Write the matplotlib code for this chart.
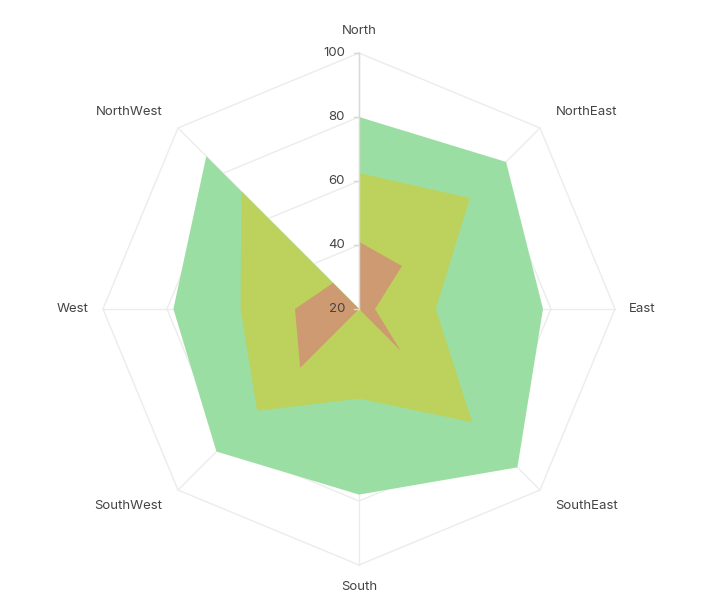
import numpy as np
import matplotlib.pyplot as plt

plt.rcParams['font.family'] = ['Inter', 'DejaVu Sans']

directions = ["North", "NorthEast", "East", "SouthEast", "South", "SouthWest", "West", "NorthWest"]
series_a = [80, 85, 77.5, 90, 78, 83, 78, 87.5]
series_b = [62.5, 69, 44, 70, 48, 65, 57, 72]
series_c = [41, 39, 25, 38.5, 20, 46, 40, 31.5]
colors = ["#9bdea3", "#bdd25c", "#cd9a72"]
ticks = [20, 40, 60, 80, 100]

cx, cy = 359, 309
rmin, rmax = 20, 100
R = 256


def to_xy(v, i):
    r = (v - rmin) / (rmax - rmin) * R
    a = np.pi / 2 - i * np.pi / 4
    return cx + r * np.cos(a), cy - r * np.sin(a)


fig = plt.figure(figsize=(7.15, 6.0), dpi=100)
ax = fig.add_axes([0, 0, 1, 1])
ax.set_xlim(0, 715)
ax.set_ylim(600, 0)
ax.axis('off')

# grid
for t in ticks[1:]:
    pts = [to_xy(t, i) for i in range(9)]
    ax.plot([p[0] for p in pts], [p[1] for p in pts], color="#ececec", lw=1, zorder=1)
for i in range(8):
    x, y = to_xy(rmax, i)
    ax.plot([cx, x], [cy, y], color="#ececec", lw=1, zorder=1)

# series: area starts and ends at centre
for vals, c in zip([series_a, series_b, series_c], colors):
    pts = [(cx, cy)] + [to_xy(v, i) for i, v in enumerate(vals)] + [(cx, cy)]
    ax.fill([p[0] for p in pts], [p[1] for p in pts], color=c, lw=0, zorder=2)

# radial axis
ax.plot([cx, cx], [cy, to_xy(rmax, 0)[1]], color="#d9d9d9", lw=1, zorder=3)
for t in ticks:
    y = to_xy(t, 0)[1]
    ax.plot([cx - 5, cx], [y, y], color="#d9d9d9", lw=1, zorder=3)
    ax.text(cx - 14, y, str(t), ha='right', va='center', fontsize=9.5, color="#444444", zorder=4)

for i, d in enumerate(directions):
    a = np.pi / 2 - i * np.pi / 4
    x, y = cx + 278 * np.cos(a), cy - 278 * np.sin(a)
    ha = 'center'
    if np.cos(a) > 0.1:
        ha = 'left'
    elif np.cos(a) < -0.1:
        ha = 'right'
    if i in (2, 6):
        x = cx + (270 if i == 2 else -270)
    ax.text(x, y, d, ha=ha, va='center', fontsize=9.5, color="#444444")

fig.savefig("out.png", dpi=100)
